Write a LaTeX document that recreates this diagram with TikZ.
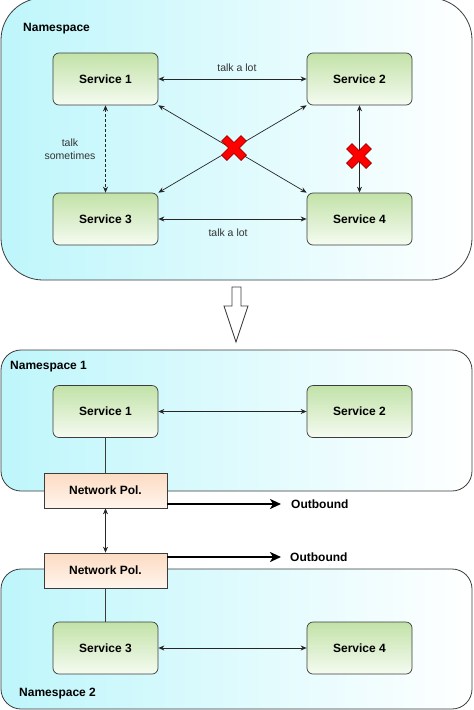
\documentclass[tikz,border=0pt]{standalone}
\usepackage{fontspec}
\setmainfont{Liberation Sans}
\usetikzlibrary{arrows.meta,calc}
\definecolor{nsleft}{RGB}{190,246,251}
\definecolor{bordergray}{RGB}{60,60,60}
\definecolor{greentop}{RGB}{194,226,168}
\definecolor{greenbot}{RGB}{245,251,241}
\definecolor{orangetop}{RGB}{252,219,194}
\definecolor{orangebot}{RGB}{255,245,237}
\definecolor{xred}{RGB}{255,0,0}
\definecolor{xdark}{RGB}{170,0,0}
\tikzset{
  nsbox/.style={draw=bordergray, line width=0.8pt, left color=nsleft, right color=white},
  svc/.style={rectangle, draw=bordergray, line width=0.7pt, rounded corners=6pt,
    minimum width=105pt, minimum height=52pt, top color=greentop, bottom color=greenbot,
    font=\fontsize{12}{14}\selectfont\bfseries, inner sep=0pt},
  netpol/.style={rectangle, draw=bordergray, line width=0.7pt,
    minimum width=123pt, minimum height=35pt, top color=orangetop, bottom color=orangebot,
    font=\fontsize{12}{14}\selectfont\bfseries, inner sep=0pt},
  lbl/.style={font=\fontsize{12}{14}\selectfont\bfseries, inner sep=0pt},
  small/.style={font=\fontsize{10.5}{13}\selectfont, inner sep=0pt, text=black!80},
  conn/.style={draw=black!85, line width=0.7pt, {Stealth[length=6pt,width=5pt]}-{Stealth[length=6pt,width=5pt]}},
  plain/.style={draw=bordergray, line width=0.7pt},
  outarrow/.style={draw=black, line width=2pt, -{Stealth[length=11pt,width=10pt,inset=3pt]}},
}
\begin{document}
\begin{tikzpicture}[x=1pt,y=-1pt]
\useasboundingbox (0,0) rectangle (474,710);
\fill[white] (0,0) rectangle (474,710);
% namespaces
\path[nsbox, rounded corners=42pt] (1,-2) rectangle (472,280);
\path[nsbox, rounded corners=20pt] (1,350) rectangle (472,491);
\path[nsbox, rounded corners=20pt] (1,569) rectangle (472,709);
\node[lbl, anchor=west] (nstitle) at (23,29) {Namespace};
\node[lbl, anchor=west] (ns1title) at (10,367) {Namespace 1};
\node[lbl, anchor=west] (ns2title) at (19,694) {Namespace 2};
% top services
\node[svc] (s1) at (105.5,79) {Service 1};
\node[svc] (s2) at (359.5,79) {Service 2};
\node[svc] (s3) at (105.5,219) {Service 3};
\node[svc] (s4) at (359.5,219) {Service 4};
\draw[conn] (s1) -- node[small, pos=0.53, above=7pt] (t1) {talk a lot} (s2);
\draw[conn] (s3) -- node[small, pos=0.47, below=10pt] (t2) {talk a lot} (s4);
\draw[conn, dash pattern=on 3pt off 2pt] (s1) -- (s3);
\node[small, align=center] (ts) at (70,149) {talk\\sometimes};
\draw[conn] (s2) -- (s4);
\draw[conn] (s1.south east) -- (s4.north west);
\draw[conn] (s3.north east) -- (s2.north west |- s2.south);
% red crosses
\coordinate (x1) at (234,148);
\coordinate (x2) at (359,156);
\foreach \c in {x1,x2}{
  \draw[xdark, line width=8.4pt] ($(\c)+(-10,-10)$) -- ($(\c)+(10,10)$);
  \draw[xdark, line width=8.4pt] ($(\c)+(-10,10)$) -- ($(\c)+(10,-10)$);
}
\foreach \c in {x1,x2}{
  \draw[xred, line width=6.6pt, shorten >=0.9pt, shorten <=0.9pt] ($(\c)+(-10,-10)$) -- ($(\c)+(10,10)$);
  \draw[xred, line width=6.6pt, shorten >=0.9pt, shorten <=0.9pt] ($(\c)+(-10,10)$) -- ($(\c)+(10,-10)$);
}
% big hollow arrow
\draw[bordergray, line width=0.8pt, fill=white] (232,287) -- (241,287) -- (241,306) -- (248,306) -- (236,342) -- (224,306) -- (232,306) -- cycle;
% bottom services
\node[svc] (b1) at (105.5,411.5) {Service 1};
\node[svc] (b2) at (359.5,411.5) {Service 2};
\node[svc] (b3) at (105.5,648) {Service 3};
\node[svc] (b4) at (359.5,648) {Service 4};
\draw[conn] (b1) -- (b2);
\draw[conn] (b3) -- (b4);
% network policies
\node[netpol] (np1) at (105.5,490.5) {Network Pol.};
\node[netpol] (np2) at (105.5,570.5) {Network Pol.};
\draw[plain] (b1) -- (np1);
\draw[plain] (np2) -- (b3);
\draw[conn] (np1) -- (np2);
\coordinate (o1) at (281,504);
\coordinate (o2) at (281,557);
\draw[outarrow] (np1.east |- o1) -- (o1);
\draw[outarrow] (np2.east |- o2) -- (o2);
\node[lbl, anchor=west] (ob1) at (291,504) {Outbound};
\node[lbl, anchor=west] (ob2) at (290,557) {Outbound};
\end{tikzpicture}
\end{document}
